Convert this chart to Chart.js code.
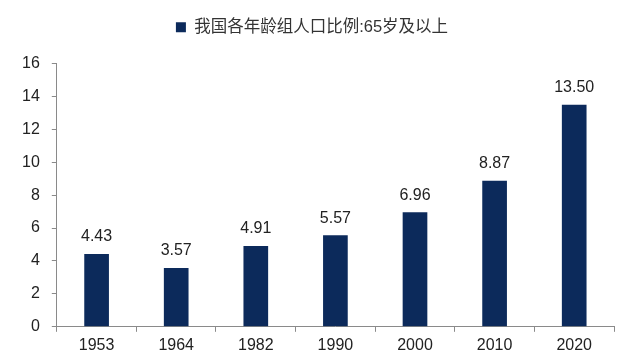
<!DOCTYPE html>
<html>
<head>
<meta charset="utf-8">
<script src="https://cdn.jsdelivr.net/npm/chart.js@4.4.0/dist/chart.umd.min.js"></script>
<style>
  html, body { margin: 0; padding: 0; background: #fff; }
  #wrap { width: 640px; height: 359px; position: relative; }
</style>
</head>
<body>
<div id="wrap"><canvas id="ageChart"></canvas></div>
<script>
// ─── DATA ───
const years = ['1953', '1964', '1982', '1990', '2000', '2010', '2020'];
const share65 = [4.43, 3.57, 4.91, 5.57, 6.96, 8.87, 13.50];
const yTicks = [0, 2, 4, 6, 8, 10, 12, 14, 16];
const seriesName = '我国各年龄组人口比例:65岁及以上';

const FONT = '"Liberation Sans", Arial, "Noto Sans CJK SC", sans-serif';
const NAVY = '#0c2a5b';

// ─── VALUE LABELS ───
const valueLabels = {
    id: 'valueLabels',
    afterDatasetsDraw(chart) {
        const ctx = chart.ctx;
        const meta = chart.getDatasetMeta(0);
        ctx.save();
        ctx.font = '16px ' + FONT;
        ctx.fillStyle = '#222';
        ctx.textAlign = 'center';
        ctx.textBaseline = 'bottom';
        meta.data.forEach((bar, i) => {
            ctx.fillText(share65[i].toFixed(2), bar.x, bar.y - 9);
        });
        ctx.restore();
    }
};

// ─── LEGEND SPACING ───
const legendGap = {
    id: 'legendGap',
    beforeInit(chart) {
        const origFit = chart.legend.fit;
        chart.legend.fit = function () {
            origFit.bind(chart.legend)();
            this.height += 18;
        };
    }
};

// ─── CHART ───
const ctx = document.getElementById('ageChart').getContext('2d');
new Chart(ctx, {
    type: 'bar',
    data: {
        labels: years,
        datasets: [{
            label: seriesName,
            data: share65,
            backgroundColor: NAVY,
            barPercentage: 0.31,
            categoryPercentage: 1,
        }]
    },
    options: {
        responsive: true,
        maintainAspectRatio: false,
        animation: false,
        layout: { padding: { left: 10, right: 26, top: 3, bottom: 0 } },
        plugins: {
            legend: {
                position: 'top',
                labels: {
                    boxWidth: 10,
                    boxHeight: 10,
                    padding: 16,
                    color: '#333',
                    font: { size: 16.5, family: FONT }
                }
            },
            tooltip: { enabled: false }
        },
        scales: {
            y: {
                min: 0,
                max: 16,
                afterBuildTicks: axis => { axis.ticks = yTicks.map(v => ({ value: v })); },
                grid: { display: true, drawOnChartArea: false, drawTicks: true, tickLength: 5, color: '#8a8a8a' },
                border: { color: '#8a8a8a', width: 1 },
                ticks: { color: '#222', padding: 12, font: { size: 16, family: FONT } }
            },
            x: {
                grid: { display: true, drawOnChartArea: false, drawTicks: true, tickLength: 5, color: '#8a8a8a' },
                border: { color: '#8a8a8a', width: 1 },
                ticks: { color: '#222', padding: 4, font: { size: 16, family: FONT } }
            }
        }
    },
    plugins: [valueLabels, legendGap]
});
</script>
</body>
</html>
